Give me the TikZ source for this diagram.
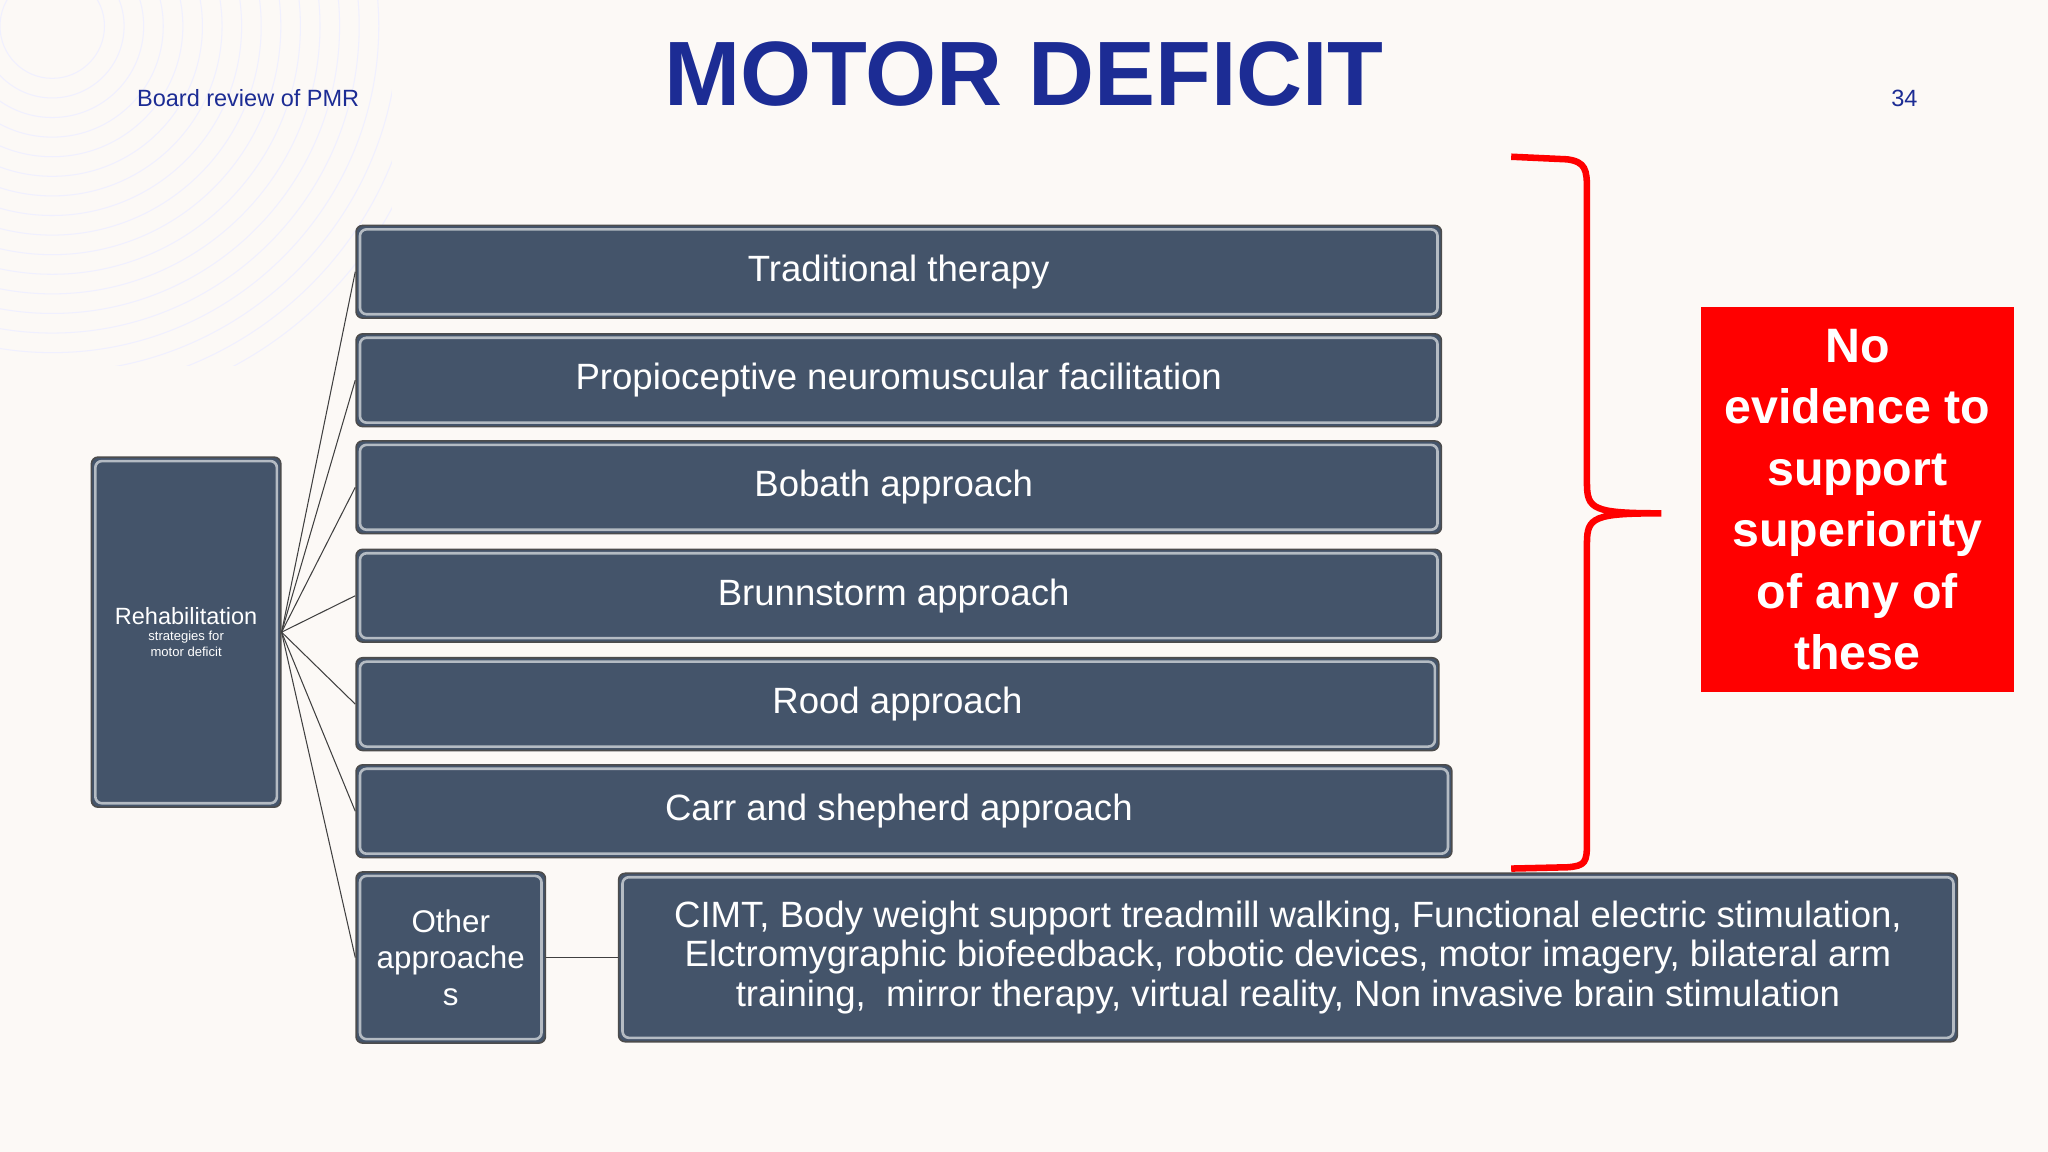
\documentclass[tikz,border=0pt]{standalone}
\usepackage{fontspec}
\setmainfont{Liberation Sans}
\begin{document}
\begin{tikzpicture}[x=1pt,y=-1pt,
  box/.style={draw=black!70,line width=1.2pt,fill=slate,rounded corners=5pt,text=white,align=center,inner sep=0pt,
    path picture={\draw[white!60!slate,line width=2pt] ([xshift=3pt,yshift=-3pt]path picture bounding box.north west) rectangle ([xshift=-3pt,yshift=3pt]path picture bounding box.south east);}},
  lk/.style={draw=black!75,line width=0.8pt}]
\definecolor{slate}{HTML}{44546A}
\definecolor{ttl}{HTML}{1C2C94}
\definecolor{bg}{HTML}{FCF9F6}
\useasboundingbox (0,0) rectangle (1568,882);
\fill[bg] (0,0) rectangle (1568,882);
\begin{scope}
\clip (0,0) rectangle (300,280);
\foreach \r in {40,55,...,300} \draw[blue!6,line width=0.8pt] (40,20) circle (\r);
\end{scope}
\node (title) at (784,57) {\fontsize{70}{70}\selectfont\bfseries\color{ttl}MOTOR DEFICIT};
\node[text=ttl] (brd) at (190,75) {\fontsize{18}{20}\selectfont Board review of PMR};
\node[text=ttl] (pg) at (1458,75) {\fontsize{18}{20}\selectfont 34};
\node[box,minimum width=145pt,minimum height=268pt] (root) at (142.5,484) {\fontsize{18}{19}\selectfont Rehabilitation\\strategies for\\motor deficit};
\foreach \n/\ya/\xb/\t in {a/172/1103/Traditional therapy,b/255/1103/Propioceptive neuromuscular facilitation,c/337/1103/Bobath approach /Neurodevelopmental technique,d/420/1103/Brunnstorm approach / Movement therapy,e/503/1101/Rood approach/ Sensorimotor approach,f/585/1111/Carr and shepherd approach / Motor relearning approach}{
  \node[box,minimum width={\xb-272},minimum height=71pt,anchor=north west,font=\fontsize{28}{30}\selectfont] (\n) at (272,\ya) {\t};
  \draw[lk] (root.east) -- (\n.west);
}
\node[box,minimum width=145pt,minimum height=131pt,anchor=north west,font=\fontsize{24}{28}\selectfont] (g) at (272,667) {Other\\approache\\s};
\draw[lk] (root.east) -- (g.west);
\node[box,minimum width=1025pt,minimum height=129pt,anchor=north west,font=\fontsize{28}{30}\selectfont] (h) at (473,668) {CIMT, Body weight support treadmill walking, Functional electric stimulation,\\Elctromygraphic biofeedback, robotic devices, motor imagery, bilateral arm\\training,\ \ mirror therapy, virtual reality, Non invasive brain stimulation};
\draw[lk] (g.east) -- (h.west);
\draw[red,line width=5pt] (1157,120) -- (1200,122) .. controls (1214,124) and (1215,130) .. (1215,145)
  -- (1215,370) .. controls (1215,390) and (1220,393) .. (1272,393)
  .. controls (1220,393) and (1215,396) .. (1215,416) -- (1215,645)
  .. controls (1215,660) and (1214,663) .. (1200,664) -- (1157,665);
\node[fill=red,minimum width=240pt,minimum height=295pt,text=white,align=center,font=\fontsize{37}{47}\selectfont\bfseries] (r) at (1422,382.5) {No\\evidence to\\support\\superiority\\of any of\\these};
\end{tikzpicture}
\end{document}
